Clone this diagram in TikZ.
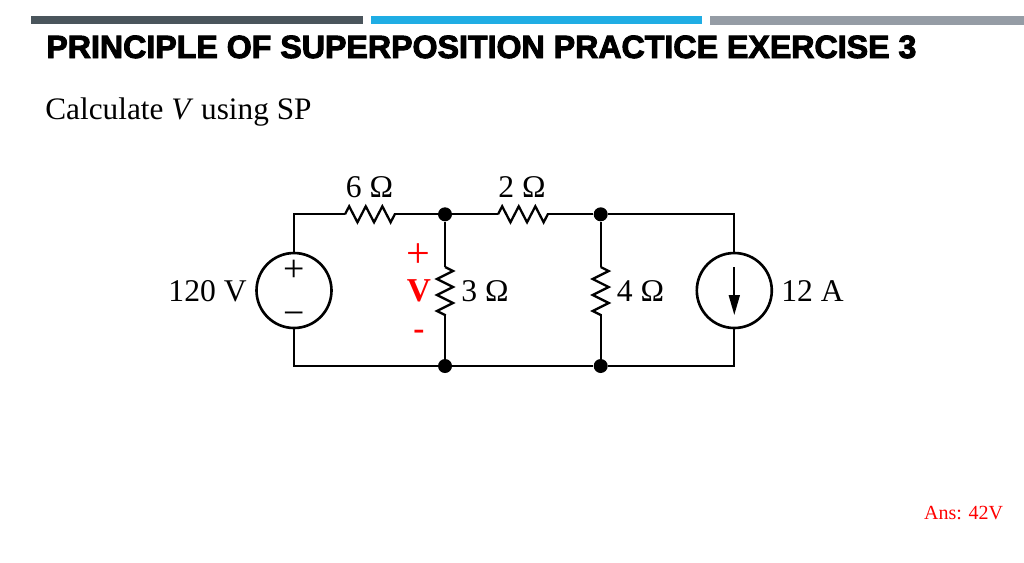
\documentclass[tikz,border=0pt]{standalone}
\usepackage{fontspec}
\setmainfont{Liberation Serif}
\newfontfamily\titlefont[FakeBold=3]{Liberation Sans Bold}
\usetikzlibrary{arrows.meta,decorations.pathmorphing}
\definecolor{bardark}{HTML}{4A555C}
\definecolor{barblue}{HTML}{1FADE4}
\definecolor{bargray}{HTML}{959CA5}
\tikzset{
wire/.style={line width=1pt,line join=miter},
res/.style={line width=1.3pt,decorate,decoration={zigzag,segment length=0.332cm,amplitude=0.16cm}},
srcnode/.style={draw,circle,line width=1.5pt,inner sep=0,minimum size=1.5cm},
dotnode/.style={fill=black,circle,inner sep=0,minimum size=0.28cm},
val/.style={inner sep=0,font=\fontsize{18}{20}\selectfont},
signmark/.style={inner sep=0,font=\fontsize{21.5}{22}\selectfont},
redmark/.style={inner sep=0,text=red,font=\fontsize{19}{20}\selectfont\bfseries}
}
\begin{document}
\begin{tikzpicture}[x=0.02cm,y=-0.02cm]
\useasboundingbox (0,0) rectangle (1024,562);
% bars on top
\fill[bardark] (31,16) rectangle (363,24);
\fill[barblue] (371,16) rectangle (702,24);
\fill[bargray] (710,15.5) rectangle (1024,24.5);
% texts
\node[anchor=base west,inner sep=0] (title) at (46,58) {\fontsize{18.3}{20}\titlefont PRINCIPLE OF SUPERPOSITION PRACTICE EXERCISE 3};
\node[anchor=base west,inner sep=0] (task) at (45,119) {\fontsize{17.8}{20}\selectfont Calculate \textit{V} using SP};
\node[anchor=base east,inner sep=0,text=red] (ans) at (1003.5,519) {\fontsize{11.4}{14}\selectfont Ans: 42V};
% junctions and sources
\node[srcnode] (vs) at (294,290.5) {};
\node[srcnode] (is) at (734.3,290.5) {};
\node[dotnode] (a) at (445,214.3) {};
\node[dotnode] (b) at (600.7,214.3) {};
\node[dotnode] (c) at (445,366) {};
\node[dotnode] (d) at (600.7,366) {};
% ends of the resistors
\coordinate (r6l) at (345,214.3);
\coordinate (r6r) at (395,214.3);
\coordinate (r2l) at (498,214.3);
\coordinate (r2r) at (548,214.3);
\coordinate (r3t) at (445,267);
\coordinate (r3b) at (445,315);
\coordinate (r4t) at (600.7,267);
\coordinate (r4b) at (600.7,315);
\coordinate (arrt) at (734.3,267);
\coordinate (arrb) at (734.3,315);
% wires
\draw[wire] (vs.north) |- (r6l);
\draw[wire] (r6r) -- (a);
\draw[wire] (a) -- (r2l);
\draw[wire] (r2r) -- (b);
\draw[wire] (b) -| (is.north);
\draw[wire] (vs.south) |- (c);
\draw[wire] (c) -- (d);
\draw[wire] (d) -| (is.south);
\draw[wire] (a) -- (r3t);
\draw[wire] (r3b) -- (c);
\draw[wire] (b) -- (r4t);
\draw[wire] (r4b) -- (d);
% resistors
\draw[res] (r6l) -- (r6r);
\draw[res] (r2l) -- (r2r);
\draw[res,decoration={segment length=0.32cm}] (r3t) -- (r3b);
\draw[res,decoration={segment length=0.32cm}] (r4t) -- (r4b);
\draw[wire,-{Stealth[length=0.4cm,width=0.22cm,inset=0pt]}] (arrt) -- (arrb);
% labels
\node[val] (l6) at (369.5,187) {6 Ω};
\node[val] (l2) at (522,187) {2 Ω};
\node[val,anchor=west] (l3) at (461,291.5) {3 Ω};
\node[val,anchor=west] (l4) at (616.5,291.5) {4 Ω};
\node[val,anchor=east] (lv) at (247,291.5) {120 V};
\node[val,anchor=west] (li) at (781,291.5) {12 A};
\node[signmark] (vp) at (294,271) {+};
\node[signmark] (vm) at (294,319) {−};
\node[signmark,font=\fontsize{24}{24}\selectfont,text=red] (vplus) at (418.5,256) {+};
\node[redmark] (vv) at (419,291) {V};
\node[redmark] (vminus) at (419,335) {-};
\end{tikzpicture}
\end{document}
